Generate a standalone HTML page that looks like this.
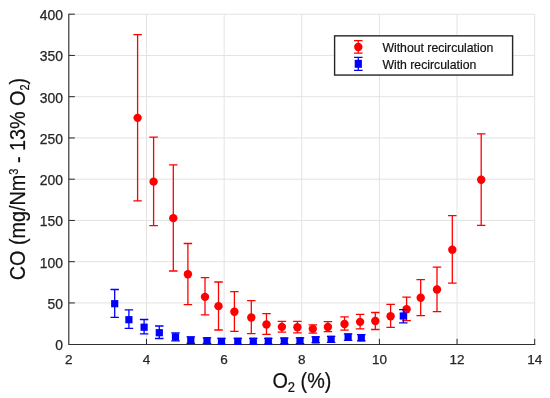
<!DOCTYPE html>
<html><head><meta charset="utf-8"><title>CO vs O2</title>
<style>html,body{margin:0;padding:0;background:#fff;}svg{display:block;}</style>
</head><body>
<svg width="550" height="398" viewBox="0 0 550 398">
<rect width="550" height="398" fill="#fff"/>
<path d="M146.49 14.20V344.20M224.13 14.20V344.20M301.77 14.20V344.20M379.41 14.20V344.20M457.05 14.20V344.20M534.69 14.20V344.20M68.85 302.95H534.69M68.85 261.70H534.69M68.85 220.45H534.69M68.85 179.20H534.69M68.85 137.95H534.69M68.85 96.70H534.69M68.85 55.45H534.69M68.85 14.20H534.69" stroke="#e3e3e3" stroke-width="1" fill="none"/>
<path d="M146.49 344.45v-5.6M224.13 344.45v-5.6M301.77 344.45v-5.6M379.41 344.45v-5.6M457.05 344.45v-5.6M534.69 344.45v-5.6M68.85 302.95h6M68.85 261.70h6M68.85 220.45h6M68.85 179.20h6M68.85 137.95h6M68.85 96.70h6M68.85 55.45h6M68.85 14.20h6" stroke="#262626" stroke-width="1" fill="none"/>
<path d="M68.8 14.20V344.45H534.69" stroke="#303030" stroke-width="1.15" fill="none" stroke-linejoin="miter" stroke-linecap="square"/>
<g font-family="Liberation Sans, sans-serif" font-size="13.9" fill="#262626" stroke="#262626" stroke-width="0.25"><text x="63.0" y="350.00" text-anchor="end">0</text><text x="63.0" y="308.75" text-anchor="end">50</text><text x="63.0" y="267.50" text-anchor="end">100</text><text x="63.0" y="226.25" text-anchor="end">150</text><text x="63.0" y="185.00" text-anchor="end">200</text><text x="63.0" y="143.75" text-anchor="end">250</text><text x="63.0" y="102.50" text-anchor="end">300</text><text x="63.0" y="61.25" text-anchor="end">350</text><text x="63.0" y="20.00" text-anchor="end">400</text><text x="68.85" y="364.4" text-anchor="middle" font-size="13.5">2</text><text x="146.49" y="364.4" text-anchor="middle" font-size="13.5">4</text><text x="224.13" y="364.4" text-anchor="middle" font-size="13.5">6</text><text x="301.77" y="364.4" text-anchor="middle" font-size="13.5">8</text><text x="379.41" y="364.4" text-anchor="middle" font-size="13.5">10</text><text x="457.05" y="364.4" text-anchor="middle" font-size="13.5">12</text><text x="534.69" y="364.4" text-anchor="middle" font-size="13.5">14</text></g>
<text x="301.9" y="387.6" transform="translate(0 387.6) scale(1 1.08) translate(0 -387.6)" text-anchor="middle" font-family="Liberation Sans, sans-serif" font-size="19.8" fill="#111" stroke="#111" stroke-width="0.2">O<tspan font-size="13" dy="3.8">2</tspan><tspan dy="-3.8"> (%)</tspan></text>
<text transform="translate(24.9 179) scale(1.1 1) rotate(-90)" text-anchor="middle" font-family="Liberation Sans, sans-serif" font-size="19.8" fill="#111" stroke="#111" stroke-width="0.2">CO (mg/Nm<tspan font-size="11" dy="-6.6">3</tspan><tspan dy="6.6"> - 13% O</tspan><tspan font-size="11" dy="3.8">2</tspan><tspan dy="-3.8">)</tspan></text>
<g fill="#ff0000"><path d="M137.60 34.60V200.80M133.35 34.60h8.50M133.35 200.80h8.50M153.60 137.20V225.70M149.35 137.20h8.50M149.35 225.70h8.50M173.30 164.80V271.00M169.05 164.80h8.50M169.05 271.00h8.50M187.90 243.50V304.60M183.65 243.50h8.50M183.65 304.60h8.50M205.00 277.70V314.90M200.75 277.70h8.50M200.75 314.90h8.50M218.50 282.00V330.00M214.25 282.00h8.50M214.25 330.00h8.50M234.40 291.60V331.30M230.15 291.60h8.50M230.15 331.30h8.50M251.30 300.70V333.60M247.05 300.70h8.50M247.05 333.60h8.50M266.50 313.70V334.40M262.25 313.70h8.50M262.25 334.40h8.50M281.90 321.30V332.20M277.65 321.30h8.50M277.65 332.20h8.50M297.40 321.30V332.90M293.15 321.30h8.50M293.15 332.90h8.50M312.80 324.90V333.20M308.55 324.90h8.50M308.55 333.20h8.50M327.90 321.60V331.70M323.65 321.60h8.50M323.65 331.70h8.50M344.50 316.90V330.10M340.25 316.90h8.50M340.25 330.10h8.50M360.10 314.40V328.90M355.85 314.40h8.50M355.85 328.90h8.50M375.30 312.50V329.50M371.05 312.50h8.50M371.05 329.50h8.50M390.60 304.40V327.30M386.35 304.40h8.50M386.35 327.30h8.50M406.60 297.10V320.70M402.35 297.10h8.50M402.35 320.70h8.50M420.70 279.70V315.70M416.45 279.70h8.50M416.45 315.70h8.50M437.00 267.10V311.70M432.75 267.10h8.50M432.75 311.70h8.50M452.30 215.70V283.10M448.05 215.70h8.50M448.05 283.10h8.50M481.20 133.80V225.40M476.95 133.80h8.50M476.95 225.40h8.50" stroke="#ff0000" stroke-width="1.3" fill="none"/><circle cx="137.60" cy="117.85" r="4.2"/><circle cx="153.60" cy="181.65" r="4.2"/><circle cx="173.30" cy="218.15" r="4.2"/><circle cx="187.90" cy="274.25" r="4.2"/><circle cx="205.00" cy="296.85" r="4.2"/><circle cx="218.50" cy="306.15" r="4.2"/><circle cx="234.40" cy="311.75" r="4.2"/><circle cx="251.30" cy="317.55" r="4.2"/><circle cx="266.50" cy="324.55" r="4.2"/><circle cx="281.90" cy="326.85" r="4.2"/><circle cx="297.40" cy="327.25" r="4.2"/><circle cx="312.80" cy="328.85" r="4.2"/><circle cx="327.90" cy="326.95" r="4.2"/><circle cx="344.50" cy="323.95" r="4.2"/><circle cx="360.10" cy="321.85" r="4.2"/><circle cx="375.30" cy="321.05" r="4.2"/><circle cx="390.60" cy="316.25" r="4.2"/><circle cx="406.60" cy="309.25" r="4.2"/><circle cx="420.70" cy="297.75" r="4.2"/><circle cx="437.00" cy="289.55" r="4.2"/><circle cx="452.30" cy="249.75" r="4.2"/><circle cx="481.20" cy="179.75" r="4.2"/></g>
<g fill="#0000ff"><path d="M114.70 289.50V317.30M110.45 289.50h8.50M110.45 317.30h8.50M128.90 309.90V328.40M124.65 309.90h8.50M124.65 328.40h8.50M144.10 319.50V333.90M139.85 319.50h8.50M139.85 333.90h8.50M159.30 326.00V338.50M155.05 326.00h8.50M155.05 338.50h8.50M175.50 332.90V340.90M171.25 332.90h8.50M171.25 340.90h8.50M190.80 336.90V343.40M186.55 336.90h8.50M186.55 343.40h8.50M207.00 337.90V343.40M202.75 337.90h8.50M202.75 343.40h8.50M221.50 338.40V344.40M217.25 338.40h8.50M217.25 344.40h8.50M237.80 338.40V344.40M233.55 338.40h8.50M233.55 344.40h8.50M253.30 338.40V344.40M249.05 338.40h8.50M249.05 344.40h8.50M268.30 338.40V344.20M264.05 338.40h8.50M264.05 344.20h8.50M284.30 338.20V343.90M280.05 338.20h8.50M280.05 343.90h8.50M300.00 337.90V343.60M295.75 337.90h8.50M295.75 343.60h8.50M315.70 336.90V342.70M311.45 336.90h8.50M311.45 342.70h8.50M331.10 336.40V342.40M326.85 336.40h8.50M326.85 342.40h8.50M348.10 333.90V340.40M343.85 333.90h8.50M343.85 340.40h8.50M361.30 334.70V340.90M357.05 334.70h8.50M357.05 340.90h8.50M403.30 309.60V322.90M399.05 309.60h8.50M399.05 322.90h8.50" stroke="#0000ff" stroke-width="1.3" fill="none"/><rect x="111.10" y="300.10" width="7.20" height="7.20"/><rect x="125.30" y="316.10" width="7.20" height="7.20"/><rect x="140.50" y="323.60" width="7.20" height="7.20"/><rect x="155.70" y="329.10" width="7.20" height="7.20"/><rect x="171.90" y="333.30" width="7.20" height="7.20"/><rect x="187.20" y="336.50" width="7.20" height="7.20"/><rect x="203.40" y="337.10" width="7.20" height="7.20"/><rect x="217.90" y="337.80" width="7.20" height="7.20"/><rect x="234.20" y="337.70" width="7.20" height="7.20"/><rect x="249.70" y="337.70" width="7.20" height="7.20"/><rect x="264.70" y="337.60" width="7.20" height="7.20"/><rect x="280.70" y="337.40" width="7.20" height="7.20"/><rect x="296.40" y="337.10" width="7.20" height="7.20"/><rect x="312.10" y="336.20" width="7.20" height="7.20"/><rect x="327.50" y="335.80" width="7.20" height="7.20"/><rect x="344.50" y="333.50" width="7.20" height="7.20"/><rect x="357.70" y="334.20" width="7.20" height="7.20"/><rect x="399.70" y="312.40" width="7.20" height="7.20"/></g>
<rect x="334.6" y="35.85" width="178" height="39.2" fill="#fff" stroke="#262626" stroke-width="1.4"/>
<g fill="#ff0000"><path d="M358.30 40.60V53.20M354.05 40.60h8.50M354.05 53.20h8.50" stroke="#ff0000" stroke-width="1.3" fill="none"/><circle cx="358.30" cy="47.00" r="4.2"/></g>
<path d="M358.3 57.4V70.3M354.05 57.4h8.50M354.05 70.3h8.50" stroke="#0000ff" stroke-width="1.3" fill="none"/><rect x="354.70" y="59.8" width="7.20" height="8" fill="#0000ff"/>
<g font-family="Liberation Sans, sans-serif" font-size="12.25" fill="#111" stroke="#111" stroke-width="0.2"><text x="382.4" y="51.8">Without recirculation</text><text x="382.4" y="68.7">With recirculation</text></g>
</svg>
</body></html>
